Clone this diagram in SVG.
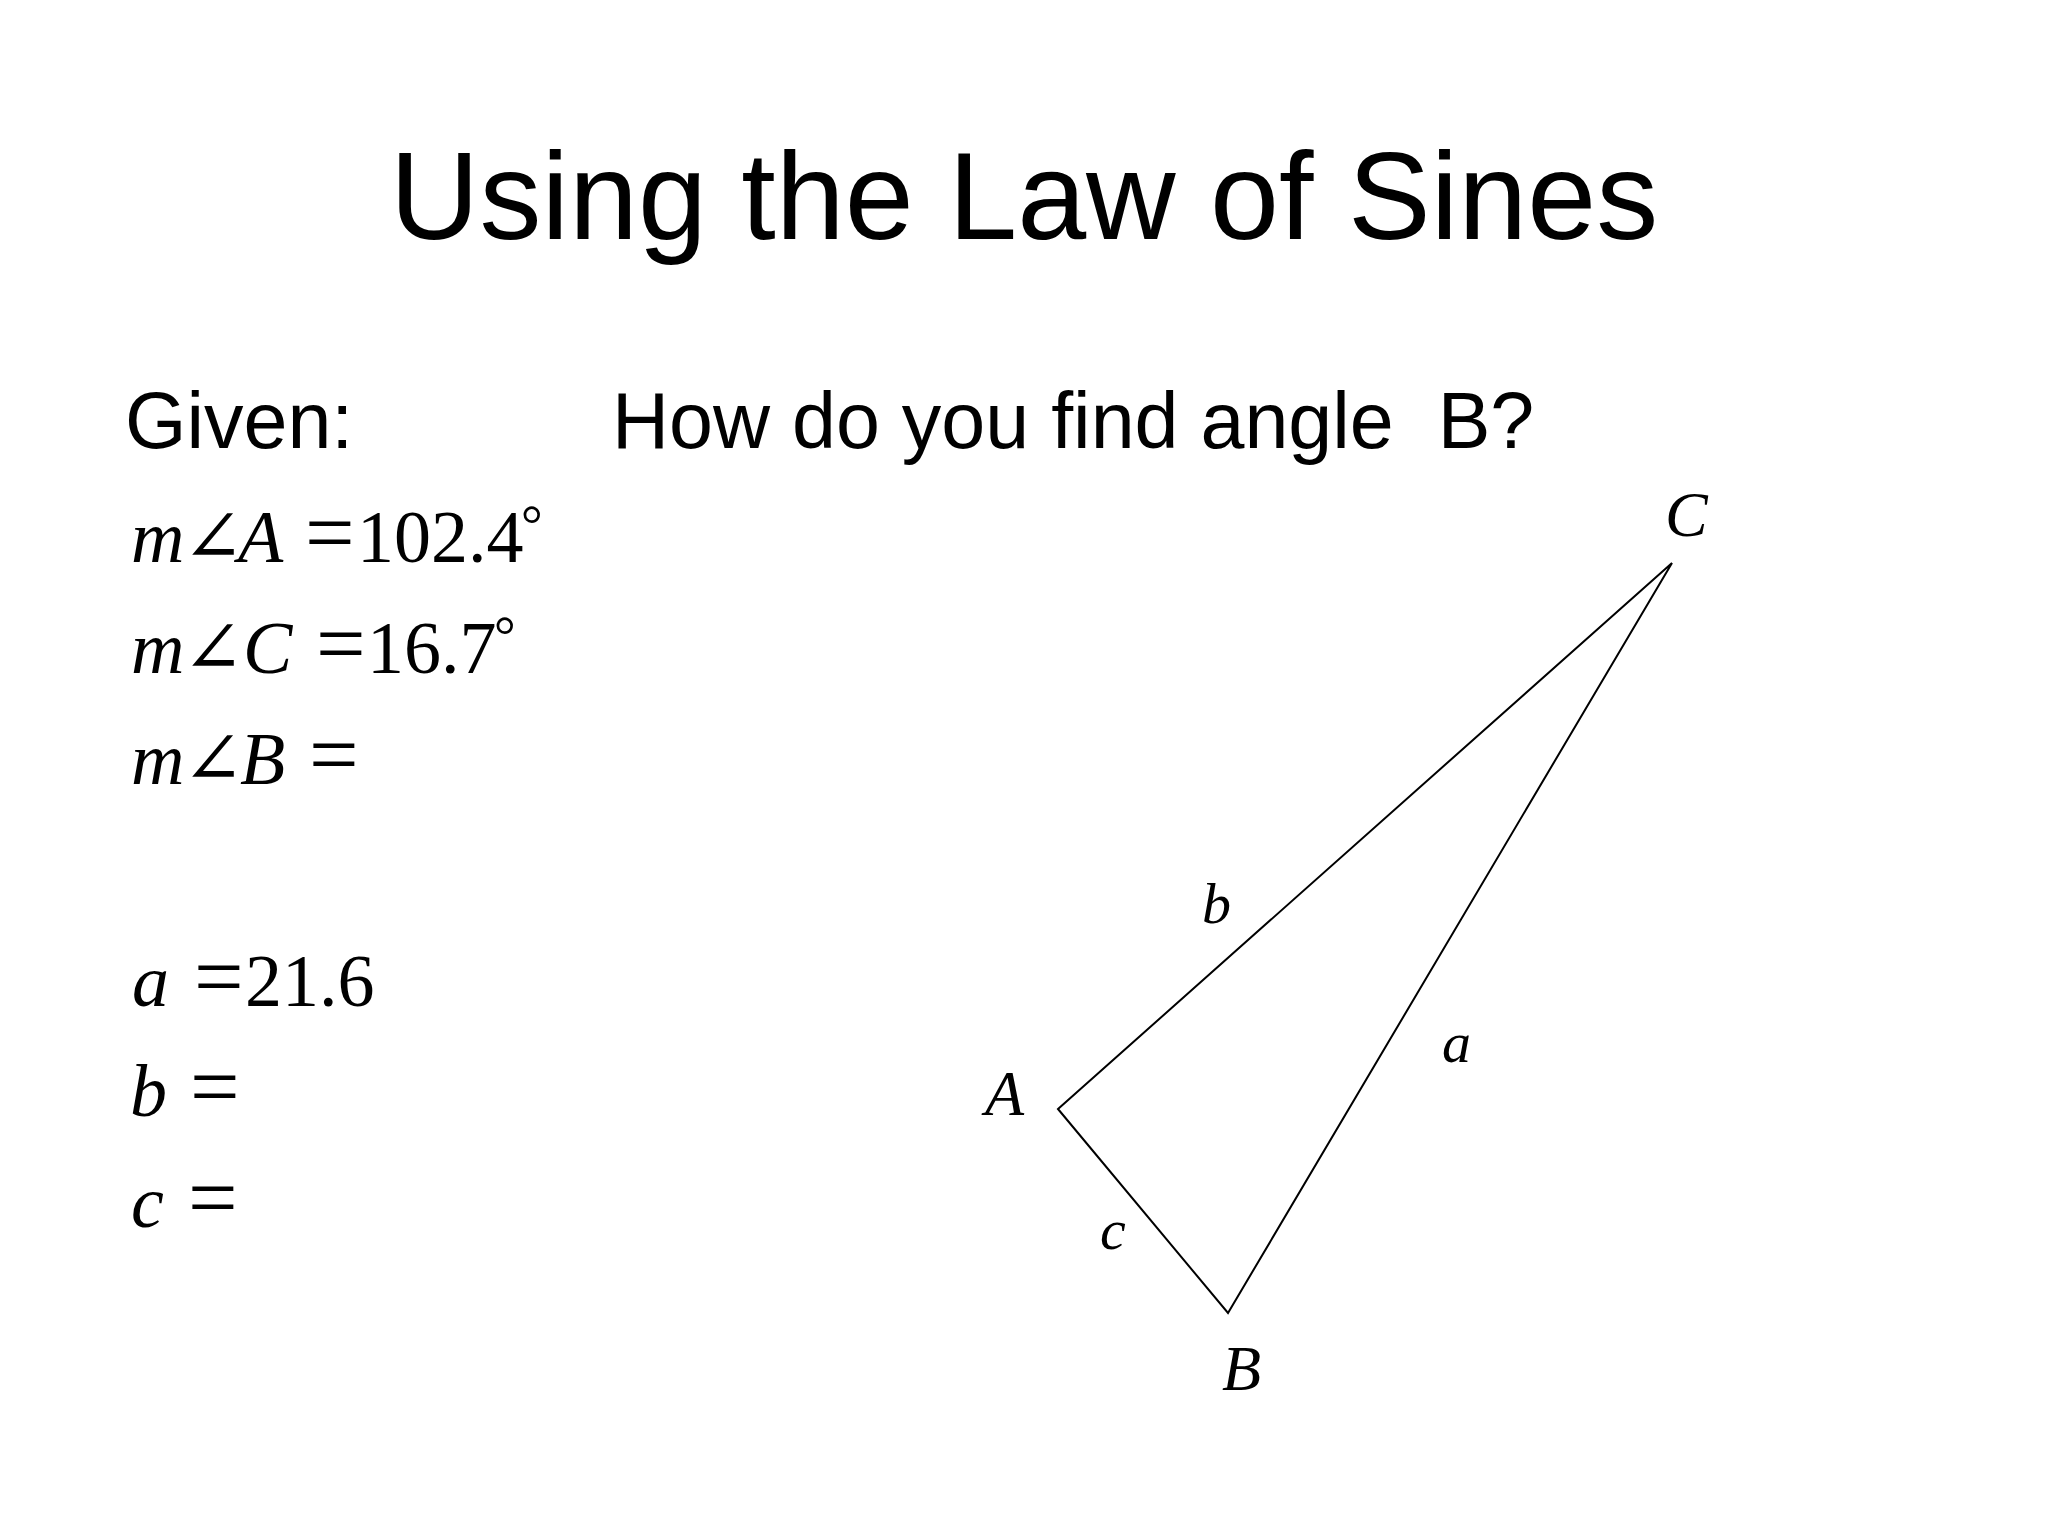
<svg xmlns="http://www.w3.org/2000/svg" width="2048" height="1536" viewBox="0 0 2048 1536">
<style>
.title{font-family:"Liberation Sans",Arial,sans-serif;font-size:124px;fill:#000}
.body{font-family:"Liberation Sans",Arial,sans-serif;font-size:79px;fill:#000}
.math{font-family:"Liberation Serif","Times New Roman","DejaVu Serif",serif;font-size:74px;fill:#000}
.it{font-style:italic}
.eq{font-size:88px}
.deg{font-size:54px}
.vlab{font-family:"Liberation Serif","Times New Roman",serif;font-style:italic;font-size:64px;fill:#000}
.slab{font-family:"Liberation Serif","Times New Roman",serif;font-style:italic;font-size:58px;fill:#000}
.edge{fill:none;stroke:#000;stroke-width:2;stroke-linejoin:miter}
</style>
<rect width="2048" height="1536" fill="#fff"/>
<g id="title"><text class="title" x="1024" y="239" text-anchor="middle">Using the Law of Sines</text></g>
<g id="given"><text class="body" x="125" y="448">Given:</text></g>
<g id="question"><text class="body" x="612" y="448" xml:space="preserve">How do you find angle  B?</text></g>
<g id="eqA"><text class="math" y="562"><tspan class="it" x="131">m</tspan><tspan x="182">∠</tspan><tspan class="it" x="238">A</tspan><tspan class="eq" x="305">=</tspan><tspan x="357">102.4</tspan><tspan class="deg" x="521" y="543">°</tspan></text></g>
<g id="eqC"><text class="math" y="673"><tspan class="it" x="131">m</tspan><tspan x="182">∠</tspan><tspan class="it" x="243">C</tspan><tspan class="eq" x="316">=</tspan><tspan x="367">16.7</tspan><tspan class="deg" x="494" y="654">°</tspan></text></g>
<g id="eqB"><text class="math" y="784"><tspan class="it" x="131">m</tspan><tspan x="182">∠</tspan><tspan class="it" x="240">B</tspan><tspan class="eq" x="309">=</tspan></text></g>
<g id="eqa"><text class="math" y="1006"><tspan class="it" x="132">a</tspan><tspan class="eq" x="194">=</tspan><tspan x="245">21.6</tspan></text></g>
<g id="eqb"><text class="math" y="1116"><tspan class="it" x="130">b</tspan><tspan class="eq" x="190">=</tspan></text></g>
<g id="eqc"><text class="math" y="1227"><tspan class="it" x="131">c</tspan><tspan class="eq" x="188">=</tspan></text></g>
<g id="connectors">
<polygon class="edge" points="1058,1109 1672,563 1228,1313"/>
</g>
<g id="vertexA"><text class="vlab" x="985" y="1115">A</text></g>
<g id="vertexB"><text class="vlab" x="1222" y="1390">B</text></g>
<g id="vertexC"><text class="vlab" x="1665" y="536">C</text></g>
<g id="sidea"><text class="slab" x="1442" y="1062">a</text></g>
<g id="sideb"><text class="slab" x="1202" y="923">b</text></g>
<g id="sidec"><text class="slab" x="1100" y="1249">c</text></g>
</svg>
